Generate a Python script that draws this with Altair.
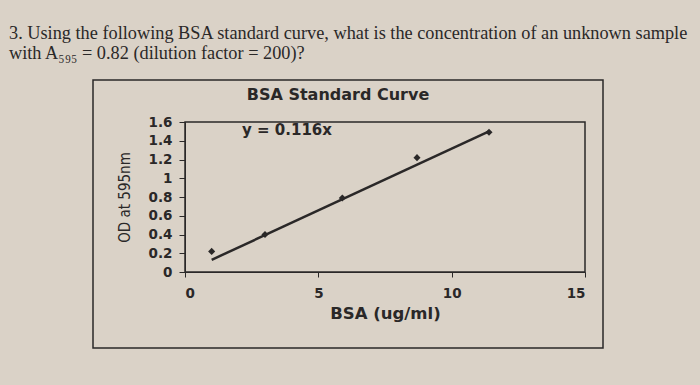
import altair as alt
import pandas as pd

# Data
bsa = [1.0, 3.0, 5.9, 8.7, 11.4]
od = [0.22, 0.40, 0.79, 1.22, 1.49]
fit_x = [1.0, 11.4]
fit_y = [0.13, 1.50]
x_ticks = [0, 5, 10, 15]
y_ticks = [0, 0.2, 0.4, 0.6, 0.8, 1, 1.2, 1.4, 1.6]

question_1 = "3. Using the following BSA standard curve, what is the concentration of an unknown sample"
question_2 = "with A\u2085\u2089\u2085 = 0.82 (dilution factor = 200)?"
chart_title = "BSA Standard Curve"
equation = "y = 0.116x"
x_title = "BSA (ug/ml)"
y_title = "OD at 595nm"

ink = "#2a2828"
paper = "#dad2c7"
bold_font = "DejaVu Sans"

pts = pd.DataFrame({"x": bsa, "y": od})
fit = pd.DataFrame({"x": fit_x, "y": fit_y})
one = pd.DataFrame({"k": [0]})

xs = alt.Scale(domain=[0, 15], nice=False, zero=True)
ys = alt.Scale(domain=[0, 1.6], nice=False)

x_axis = alt.Axis(values=x_ticks, tickCount=len(x_ticks), title=x_title, labelFontSize=13.5,
                  labelFontWeight="bold", labelPadding=9, tickSize=5, titleFontSize=16.5,
                  titleFontWeight="bold", titlePadding=6, labelColor=ink, titleColor=ink,
                  domainColor=ink, tickColor=ink, labelFont=bold_font, titleFont=bold_font,
                  grid=False, labelOverlap=False)
y_axis = alt.Axis(values=y_ticks, tickCount=len(y_ticks), format="~g", title=y_title,
                  labelFontSize=13.5, labelFontWeight="bold", labelPadding=7, tickSize=6,
                  titleFontSize=15, titleFontWeight="normal", titlePadding=16, labelColor=ink,
                  titleColor=ink, domainColor=ink, tickColor=ink, labelFont=bold_font,
                  titleFont="DejaVu Sans Condensed", grid=False, labelOverlap=False)

frame = alt.Chart(one).mark_rect(fill=None, stroke=ink, strokeWidth=1.5).encode(
    x=alt.value(-92), x2=alt.value(418), y=alt.value(-42), y2=alt.value(226)
)

line = alt.Chart(fit).mark_line(color=ink, strokeWidth=2.5).encode(
    x=alt.X("x:Q", scale=xs, axis=x_axis),
    y=alt.Y("y:Q", scale=ys, axis=y_axis),
)

points = alt.Chart(pts).mark_point(shape="diamond", filled=True, color=ink, size=50, opacity=1).encode(
    x=alt.X("x:Q", scale=xs, axis=x_axis),
    y=alt.Y("y:Q", scale=ys, axis=y_axis),
)

def label(text, x, y, size, weight="bold", font=bold_font, align="center"):
    return alt.Chart(one).mark_text(text=text, fontSize=size, fontWeight=weight, font=font,
                                    color=ink, align=align, baseline="alphabetic").encode(
        x=alt.value(x), y=alt.value(y)
    )

title_t = label(chart_title, 153, -22, 16)
eq_t = label(equation, 102, 13, 15)
q1 = label(question_1, -176, -83, 18.3, weight="normal", font="Liberation Serif", align="left")
q2 = label(question_2, -176, -63, 18.3, weight="normal", font="Liberation Serif", align="left")

chart = alt.layer(frame, line, points, title_t, eq_t, q1, q2).properties(
    width=400, height=150,
    autosize=alt.AutoSizeParams(type="none"),
    padding={"left": 185, "top": 122, "right": 115, "bottom": 113},
    background=paper,
).configure_view(stroke=ink, strokeWidth=1.5)

chart.save("out.html", embed_options={"renderer": "svg", "actions": False})
